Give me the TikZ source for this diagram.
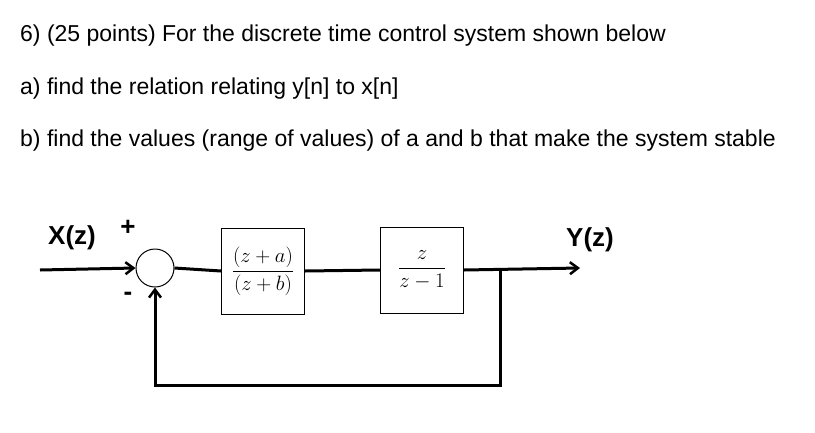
\documentclass[tikz,border=0pt]{standalone}
\usepackage{fontspec}
\setmainfont{Liberation Sans}
\usetikzlibrary{arrows.meta}
\begin{document}
\begin{tikzpicture}[x=1pt,y=-1pt,
  q/.style={anchor=west,font=\fontsize{23}{27}\selectfont,inner sep=0pt},
  blk/.style={draw,line width=1pt,minimum width=83pt,minimum height=86pt,inner sep=0pt,font=\fontsize{20}{24}\selectfont},
  sig/.style={line width=3pt},
  arr/.style={sig,-{Straight Barb[length=8pt,width=12pt,line width=2.5pt]}},
  lab/.style={font=\fontsize{26}{30}\selectfont\bfseries,inner sep=0pt}]
\useasboundingbox (0,0) rectangle (815,432);
\node[q] (t1) at (20,36) {6) (25 points) For the discrete time control system shown below};
\node[q] (t2) at (20,89) {a) find the relation relating y[n] to x[n]};
\node[q] (t3) at (20,141) {b) find the values (range of values) of a and b that make the system stable};
\node[lab] (X) at (72,238) {X(z)};
\node[lab] (pl) at (128,228) {+};
\node[lab] (mi) at (128,296) {-};
\node[lab] (Y) at (590,240) {Y(z)};
\coordinate (in) at (40,270);
\node[draw,circle,line width=1pt,minimum size=38pt,inner sep=0pt] (s) at (155,268) {};
\node[blk] (b1) at (263,271) {$\displaystyle\frac{(z+a)}{(z+b)}$};
\node[blk] (b2) at (422,270) {$\displaystyle\frac{z}{z-1}$};
\coordinate (br) at (500,268);
\coordinate (out) at (580,268);
\coordinate (c1) at (500,385);
\coordinate (c2) at (155,385);
\draw[arr] (in) -- (s.west);
\draw[sig] (s.east) -- (b1.west);
\draw[sig] (b1.east) -- (b2.west);
\draw[arr] (b2.east) -- (out);
\draw[arr] (br) -- (c1) -- (c2) -- (s.south);
\end{tikzpicture}
\end{document}
